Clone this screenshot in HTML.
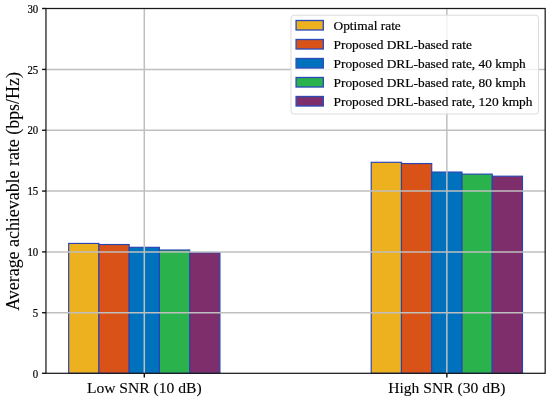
<!DOCTYPE html>
<html><head><meta charset="utf-8"><style>
html,body{margin:0;padding:0;background:#fff;width:550px;height:400px;overflow:hidden}
svg{display:block;will-change:transform}
text{font-family:"Liberation Serif",serif;fill:#000;stroke:#000;stroke-width:0.2px}
.xl{stroke-width:0.1px}
.tk{stroke-width:0.2px}
.yl{stroke-width:0.1px}
</style></head><body>
<svg width="550" height="400" viewBox="0 0 550 400">
<rect width="550" height="400" fill="#fff"/>
<rect x="68.66" y="243.43" width="30.26" height="129.87" fill="#EDB120" stroke="#2844B2" stroke-width="1.15"/>
<rect x="98.92" y="244.53" width="30.25" height="128.77" fill="#D95319" stroke="#2844B2" stroke-width="1.15"/>
<rect x="129.17" y="247.32" width="30.25" height="125.98" fill="#0072BD" stroke="#2844B2" stroke-width="1.15"/>
<rect x="159.43" y="250.00" width="30.25" height="123.30" fill="#2AB24D" stroke="#2844B2" stroke-width="1.15"/>
<rect x="189.68" y="252.67" width="30.25" height="120.63" fill="#7E2F6B" stroke="#2844B2" stroke-width="1.15"/>
<rect x="371.21" y="162.32" width="30.25" height="210.98" fill="#EDB120" stroke="#2844B2" stroke-width="1.15"/>
<rect x="401.47" y="163.54" width="30.25" height="209.76" fill="#D95319" stroke="#2844B2" stroke-width="1.15"/>
<rect x="431.72" y="172.05" width="30.25" height="201.25" fill="#0072BD" stroke="#2844B2" stroke-width="1.15"/>
<rect x="461.98" y="174.12" width="30.26" height="199.18" fill="#2AB24D" stroke="#2844B2" stroke-width="1.15"/>
<rect x="492.23" y="176.19" width="30.25" height="197.11" fill="#7E2F6B" stroke="#2844B2" stroke-width="1.15"/>
<line x1="45.97" x2="545.18" y1="312.73" y2="312.73" stroke="#bfbfbf" stroke-width="1.5"/>
<line x1="45.97" x2="545.18" y1="251.90" y2="251.90" stroke="#bfbfbf" stroke-width="1.5"/>
<line x1="45.97" x2="545.18" y1="191.08" y2="191.08" stroke="#bfbfbf" stroke-width="1.5"/>
<line x1="45.97" x2="545.18" y1="130.25" y2="130.25" stroke="#bfbfbf" stroke-width="1.5"/>
<line x1="45.97" x2="545.18" y1="69.43" y2="69.43" stroke="#bfbfbf" stroke-width="1.5"/>
<line x1="144.30" x2="144.30" y1="8.5" y2="373.3" stroke="#bfbfbf" stroke-width="1.5"/>
<line x1="446.85" x2="446.85" y1="8.5" y2="373.3" stroke="#bfbfbf" stroke-width="1.5"/>
<rect x="45.97" y="8.5" width="499.21" height="364.80" fill="none" stroke="#1a1a1a" stroke-width="1.25"/>
<line x1="42.07" x2="45.97" y1="373.30" y2="373.30" stroke="#111" stroke-width="1.4"/>
<text transform="translate(38.17,377.50) scale(0.9,1)" text-anchor="end" font-size="12" class="tk">0</text>
<line x1="42.07" x2="45.97" y1="312.73" y2="312.73" stroke="#111" stroke-width="1.4"/>
<text transform="translate(38.17,316.93) scale(0.9,1)" text-anchor="end" font-size="12" class="tk">5</text>
<line x1="42.07" x2="45.97" y1="251.90" y2="251.90" stroke="#111" stroke-width="1.4"/>
<text transform="translate(38.17,256.10) scale(0.9,1)" text-anchor="end" font-size="12" class="tk">10</text>
<line x1="42.07" x2="45.97" y1="191.08" y2="191.08" stroke="#111" stroke-width="1.4"/>
<text transform="translate(38.17,195.28) scale(0.9,1)" text-anchor="end" font-size="12" class="tk">15</text>
<line x1="42.07" x2="45.97" y1="130.25" y2="130.25" stroke="#111" stroke-width="1.4"/>
<text transform="translate(38.17,134.45) scale(0.9,1)" text-anchor="end" font-size="12" class="tk">20</text>
<line x1="42.07" x2="45.97" y1="69.43" y2="69.43" stroke="#111" stroke-width="1.4"/>
<text transform="translate(38.17,73.63) scale(0.9,1)" text-anchor="end" font-size="12" class="tk">25</text>
<line x1="42.07" x2="45.97" y1="8.50" y2="8.50" stroke="#111" stroke-width="1.4"/>
<text transform="translate(38.17,12.70) scale(0.9,1)" text-anchor="end" font-size="12" class="tk">30</text>
<line x1="144.30" x2="144.30" y1="373.30" y2="377.50" stroke="#111" stroke-width="1.4"/>
<line x1="446.85" x2="446.85" y1="373.30" y2="377.50" stroke="#111" stroke-width="1.4"/>
<text x="144.30" y="392.6" text-anchor="middle" font-size="15.6" class="xl">Low SNR (10 dB)</text>
<text x="446.85" y="392.6" text-anchor="middle" font-size="15.6" class="xl">High SNR (30 dB)</text>
<text transform="translate(18.8,191.45) rotate(-90)" text-anchor="middle" font-size="17.9" class="yl">Average achievable rate (bps/Hz)</text>
<rect x="291" y="15.2" width="247.5" height="98.8" rx="3" fill="#fff" fill-opacity="0.8" stroke="#dcdcdc" stroke-width="1"/>
<rect x="296.1" y="20.50" width="27.2" height="9.5" fill="#EDB120" stroke="#2D4CB8" stroke-width="1.35"/>
<text x="333.5" y="30.10" font-size="13.4">Optimal rate</text>
<rect x="296.1" y="39.50" width="27.2" height="9.5" fill="#D95319" stroke="#2D4CB8" stroke-width="1.35"/>
<text x="333.5" y="49.10" font-size="13.4">Proposed DRL-based rate</text>
<rect x="296.1" y="58.50" width="27.2" height="9.5" fill="#0072BD" stroke="#2D4CB8" stroke-width="1.35"/>
<text x="333.5" y="68.10" font-size="13.4">Proposed DRL-based rate, 40 kmph</text>
<rect x="296.1" y="77.50" width="27.2" height="9.5" fill="#2AB24D" stroke="#2D4CB8" stroke-width="1.35"/>
<text x="333.5" y="87.10" font-size="13.4">Proposed DRL-based rate, 80 kmph</text>
<rect x="296.1" y="96.50" width="27.2" height="9.5" fill="#7E2F6B" stroke="#2D4CB8" stroke-width="1.35"/>
<text x="333.5" y="106.10" font-size="13.4">Proposed DRL-based rate, 120 kmph</text>
</svg>
</body></html>
